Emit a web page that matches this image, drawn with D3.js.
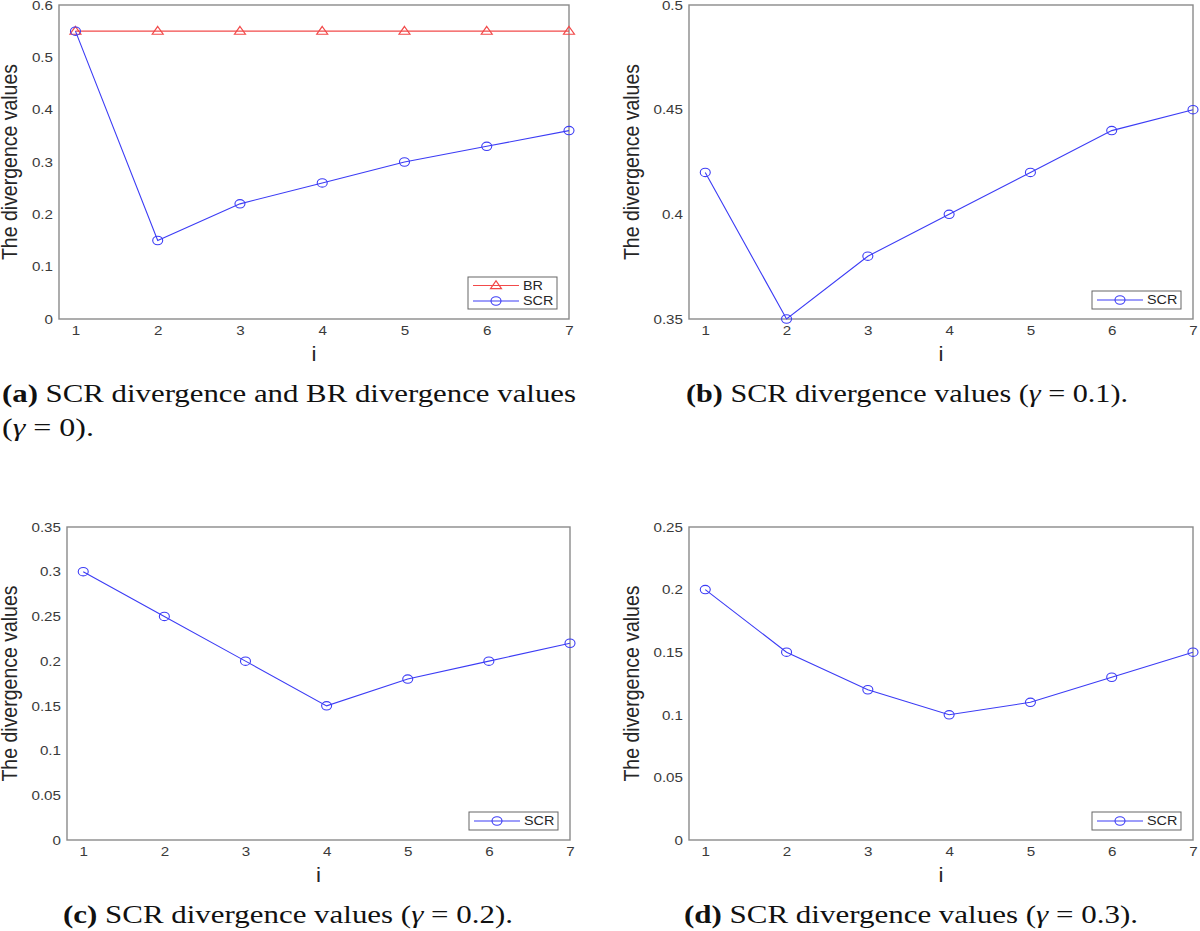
<!DOCTYPE html>
<html>
<head>
<meta charset="utf-8">
<script src="https://cdn.jsdelivr.net/npm/d3@7/dist/d3.min.js"></script>
<style>
  html, body { margin: 0; padding: 0; background: #fff; }
  svg { display: block; }
</style>
</head>
<body>
<svg id="chart" width="1200" height="931"></svg>
<script>
// ---------- DATA ----------
const iValues = [1, 2, 3, 4, 5, 6, 7];
const brA  = [0.55, 0.55, 0.55, 0.55, 0.55, 0.55, 0.55];
const scrA = [0.55, 0.15, 0.22, 0.26, 0.30, 0.33, 0.36];
const scrB = [0.42, 0.35, 0.38, 0.40, 0.42, 0.44, 0.45];
const scrC = [0.30, 0.25, 0.20, 0.15, 0.18, 0.20, 0.22];
const scrD = [0.20, 0.15, 0.12, 0.10, 0.11, 0.13, 0.15];
const yTicksA = [0, 0.1, 0.2, 0.3, 0.4, 0.5, 0.6];
const yTicksB = [0.35, 0.4, 0.45, 0.5];
const yTicksC = [0, 0.05, 0.1, 0.15, 0.2, 0.25, 0.3, 0.35];
const yTicksD = [0, 0.05, 0.1, 0.15, 0.2, 0.25];
const xLabel = "i";
const yLabel = "The divergence values";
const legendBR = "BR";
const legendSCR = "SCR";

// ---------- LAYOUT / STYLE ----------
const SX = 1.15;            // horizontal stretch of the source figure text
const BLUE = "#3c3cf5";
const RED = "#f24a4a";
const AXIS_FONT = "'Liberation Sans', Arial, sans-serif";
const SERIF = "'Liberation Serif', 'Times New Roman', serif";

const panels = [
  { left: 59,  right: 569,  top: 5,   bottom: 319, yDomain: [0, 0.6],   yTicks: yTicksA,
    series: [{ name: legendBR, values: brA, color: RED, marker: "tri" },
             { name: legendSCR, values: scrA, color: BLUE, marker: "circ" }],
    ylabX: 17 },
  { left: 689, right: 1193, top: 5,   bottom: 319, yDomain: [0.35, 0.5], yTicks: yTicksB,
    series: [{ name: legendSCR, values: scrB, color: BLUE, marker: "circ" }],
    ylabX: 639 },
  { left: 67,  right: 570,  top: 527, bottom: 840, yDomain: [0, 0.35],  yTicks: yTicksC,
    series: [{ name: legendSCR, values: scrC, color: BLUE, marker: "circ" }],
    ylabX: 17 },
  { left: 689, right: 1193, top: 527, bottom: 840, yDomain: [0, 0.25],  yTicks: yTicksD,
    series: [{ name: legendSCR, values: scrD, color: BLUE, marker: "circ" }],
    ylabX: 639 }
];

const svg = d3.select("#chart");
svg.append("rect").attr("width", 1200).attr("height", 931).attr("fill", "#fff");

const fmt = d => String(+d.toFixed(2));

function drawMarker(g, kind, cx, cy, color) {
  if (kind === "circ") {
    g.append("ellipse").attr("cx", cx).attr("cy", cy).attr("rx", 5).attr("ry", 4.2)
      .attr("fill", "none").attr("stroke", color).attr("stroke-width", 1.1);
  } else {
    g.append("path")
      .attr("d", d3.symbol(d3.symbolTriangle, 40)())
      .attr("transform", `translate(${cx},${cy + 0.5}) scale(${SX},0.95)`)
      .attr("fill", "none").attr("stroke", color).attr("stroke-width", 1.1);
  }
}

panels.forEach(p => {
  const g = svg.append("g");
  const x = d3.scaleLinear().domain([0.8, 7]).range([p.left, p.right]);
  const y = d3.scaleLinear().domain(p.yDomain).range([p.bottom, p.top]);

  // box
  g.append("rect")
    .attr("x", p.left).attr("y", p.top)
    .attr("width", p.right - p.left).attr("height", p.bottom - p.top)
    .attr("fill", "#fff").attr("stroke", "#8a8a8a").attr("stroke-width", 1.4);

  // axes
  const xa = g.append("g").attr("transform", `translate(0,${p.bottom})`)
    .call(d3.axisBottom(x).tickValues(iValues).tickSize(0).tickPadding(7).tickFormat(d3.format("d")));
  const ya = g.append("g").attr("transform", `translate(${p.left},0)`)
    .call(d3.axisLeft(y).tickValues(p.yTicks).tickSize(0).tickPadding(6).tickFormat(fmt));
  [xa, ya].forEach(a => {
    a.select(".domain").remove();
    a.selectAll("text")
      .attr("font-family", AXIS_FONT).attr("font-size", 13.2).attr("fill", "#3a3a3a");
  });
  xa.selectAll("text").attr("transform", `scale(${SX},1)`);
  ya.selectAll("text").attr("x", -6 / SX).attr("transform", `scale(${SX},1)`);

  // axis titles
  g.append("text")
    .attr("transform", `translate(${(p.left + p.right) / 2},${p.bottom + 42}) scale(${SX},1)`)
    .attr("text-anchor", "middle").attr("font-family", AXIS_FONT).attr("font-size", 19.5)
    .attr("fill", "#262626").text(xLabel);
  g.append("text")
    .attr("transform", `translate(${p.ylabX},${(p.top + p.bottom) / 2}) scale(${SX},1) rotate(-90)`)
    .attr("text-anchor", "middle").attr("font-family", AXIS_FONT).attr("font-size", 19.5)
    .attr("fill", "#262626").text(yLabel);

  // series
  const line = d3.line().x((d, i) => x(iValues[i])).y(d => y(d));
  p.series.forEach(s => {
    g.append("path").attr("d", line(s.values))
      .attr("fill", "none").attr("stroke", s.color).attr("stroke-width", 1.1);
    s.values.forEach((v, i) => drawMarker(g, s.marker, x(iValues[i]), y(v), s.color));
  });

  // legend
  const n = p.series.length;
  const lw = 89, lh = n === 1 ? 18 : 32;
  const lx = p.right - 12 - lw, ly = p.bottom - 10 - lh;
  const lg = g.append("g");
  lg.append("rect").attr("x", lx).attr("y", ly).attr("width", lw).attr("height", lh)
    .attr("fill", "#fff").attr("stroke", "#666").attr("stroke-width", 1);
  p.series.forEach((s, k) => {
    const ry = n === 1 ? ly + lh / 2 : ly + 8.5 + k * 15.5;
    lg.append("line").attr("x1", lx + 5).attr("x2", lx + 51).attr("y1", ry).attr("y2", ry)
      .attr("stroke", s.color).attr("stroke-width", 1.1);
    drawMarker(lg, s.marker, lx + 28, ry, s.color);
    lg.append("text")
      .attr("transform", `translate(${lx + 55},${ry}) scale(${SX},1)`)
      .attr("dy", "0.35em").attr("font-family", AXIS_FONT).attr("font-size", 12.5)
      .attr("fill", "#262626").text(s.name);
  });
});

// ---------- CAPTIONS ----------
const captions = [
  { x: 2,   y: 402, w: 574, label: "(a)", parts: [[" SCR divergence and BR divergence values", false]] },
  { x: 2,   y: 436, w: 92,  label: "",    parts: [["(", false], ["γ", true], [" = 0).", false]] },
  { x: 686, y: 402, w: 442, label: "(b)", parts: [[" SCR divergence values (", false], ["γ", true], [" = 0.1).", false]] },
  { x: 63,  y: 923, w: 450, label: "(c)", parts: [[" SCR divergence values (", false], ["γ", true], [" = 0.2).", false]] },
  { x: 684, y: 923, w: 454, label: "(d)", parts: [[" SCR divergence values (", false], ["γ", true], [" = 0.3).", false]] }
];
captions.forEach(c => {
  const t = svg.append("text").attr("x", c.x).attr("y", c.y)
    .attr("font-family", SERIF).attr("font-size", 25.5).attr("fill", "#111")
    .attr("textLength", c.w).attr("lengthAdjust", "spacingAndGlyphs")
    .attr("xml:space", "preserve").style("white-space", "pre");
  if (c.label) t.append("tspan").attr("font-weight", "bold").text(c.label);
  c.parts.forEach(([txt, it]) => {
    const sp = t.append("tspan").text(txt);
    if (it) sp.attr("font-style", "italic");
  });
});
</script>
</body>
</html>
